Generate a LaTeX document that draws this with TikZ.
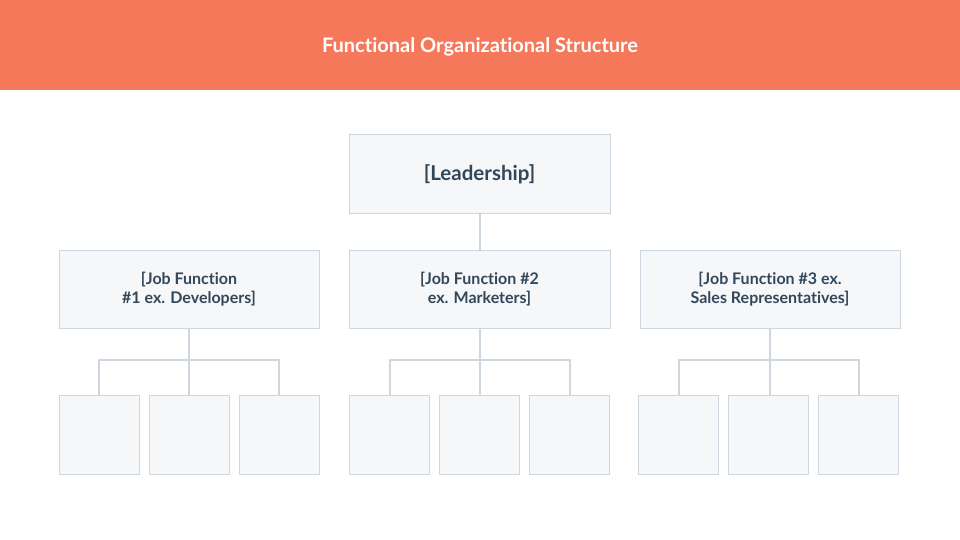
\documentclass[tikz,border=0pt]{standalone}
\usepackage{fontspec}
\setmainfont[Ligatures={NoCommon,NoRequired,NoContextual}]{Lato}
\begin{document}
\begin{tikzpicture}[x=1pt,y=-1pt,
  box/.style={draw=linecol,line width=1pt,fill=boxfill,inner sep=0pt,align=center,text=textcol,font=\bfseries\fontsize{16}{19.5}\selectfont},
  conn/.style={draw=linecol,line width=2pt}]
\definecolor{headcol}{HTML}{F5785A}
\definecolor{linecol}{HTML}{CED7E0}
\definecolor{boxfill}{HTML}{F5F7F9}
\definecolor{textcol}{HTML}{33475B}
\useasboundingbox (0,0) rectangle (960,540);
\fill[white] (0,0) rectangle (960,540);
\fill[headcol] (0,0) rectangle (960,90);
\node[text=white,font=\bfseries\fontsize{20}{24}\selectfont] (title) at (480,47) {Functional Organizational Structure};
\node[box,minimum width=261pt,minimum height=78pt,font=\bfseries\fontsize{20.5}{24}\selectfont] (lead) at (479.5,174) {[Leadership]};
\node[box,minimum width=260pt,minimum height=78pt] (f1) at (189,289) {[Job Function\\\#1 ex. Developers]};
\node[box,minimum width=261pt,minimum height=78pt] (f2) at (479.5,289) {[Job Function \#2\\ex. Marketers]};
\node[box,minimum width=260pt,minimum height=78pt] (f3) at (770,289) {[Job Function \#3 ex.\\Sales Representatives]};
\foreach \n/\x in {a/99,b/189,c/279,d/389.5,e/479.5,f/569.5,g/678.5,h/768.5,i/858.5}{
  \node[box,minimum width=80pt,minimum height=79pt] (c\n) at (\x,434.5) {};
}
\draw[conn] (lead.south) -- (f2.north);
\foreach \p/\l/\m/\r in {f1/ca/cb/cc,f2/cd/ce/cf,f3/cg/ch/ci}{
  \coordinate (j\p) at ([yshift=-31pt]\p.south);
  \draw[conn] (\p.south) -- (\p.south |- \m.north);
  \draw[conn] (\l.north) |- (j\p) -| (\r.north);
}
\end{tikzpicture}
\end{document}
